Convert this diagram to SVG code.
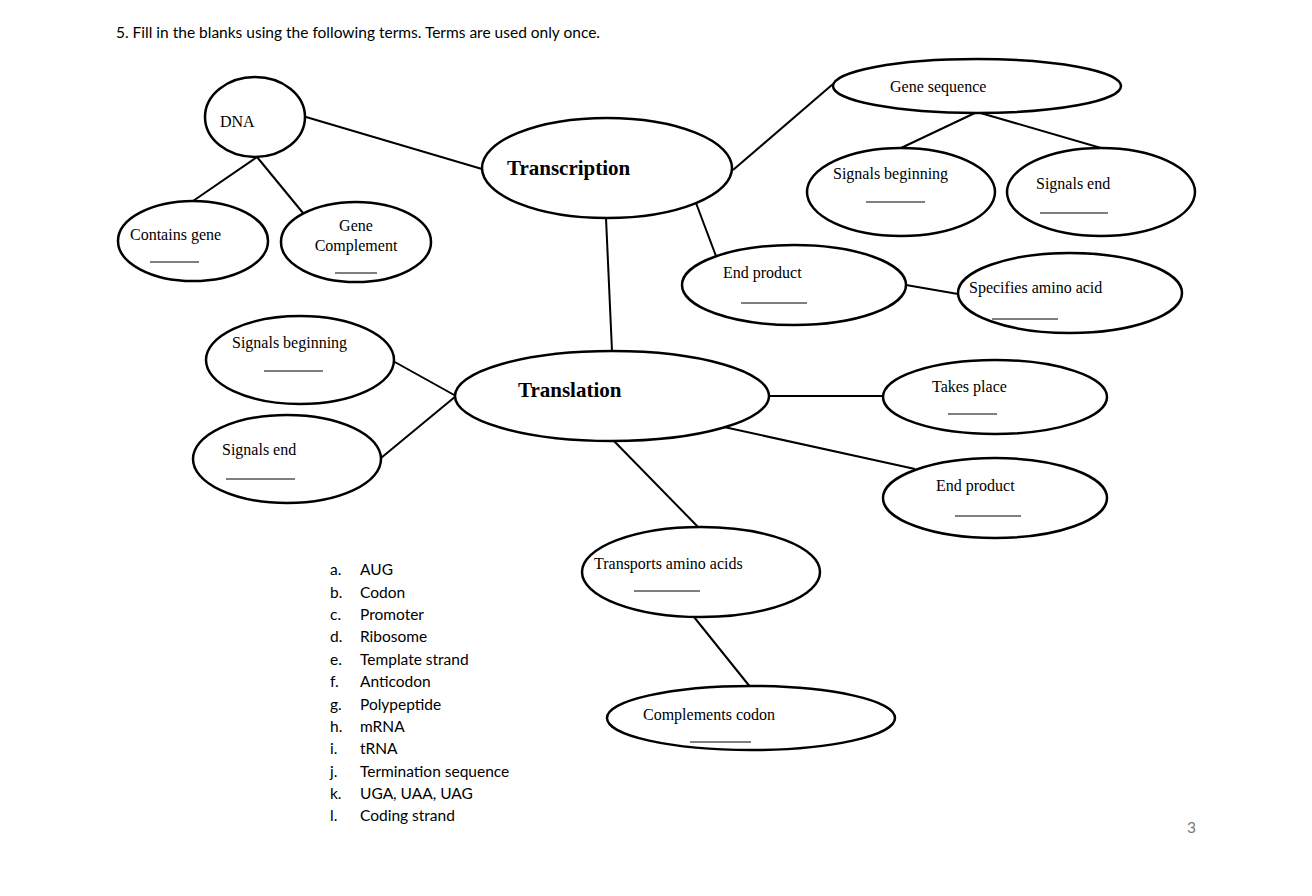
<svg xmlns="http://www.w3.org/2000/svg" width="1312" height="896" viewBox="0 0 1312 896">
<style>
.n{fill:#fff;stroke:#000;stroke-width:2.5}
.t{font-family:"Liberation Serif",serif;font-size:16px;fill:#000}
.b{font-family:"Liberation Serif",serif;font-size:21px;font-weight:bold;fill:#000}
.bl{stroke:#000;stroke-width:1}
.c line{stroke:#000;stroke-width:2}
.s{font-family:Lato,"Open Sans",sans-serif;font-size:15.5px;fill:#000}
</style>
<rect width="1312" height="896" fill="#fff"/>
<text class="s" x="116" y="38">5. Fill in the blanks using the following terms. Terms are used only once.</text>
<g class="c">
<line x1="306" y1="117" x2="482" y2="169"/>
<line x1="257" y1="157" x2="193" y2="201"/>
<line x1="257" y1="157" x2="303" y2="213"/>
<line x1="733" y1="170" x2="833" y2="84"/>
<line x1="977" y1="112" x2="901" y2="148"/>
<line x1="977" y1="112" x2="1101" y2="148"/>
<line x1="696" y1="203" x2="716" y2="256"/>
<line x1="906" y1="285" x2="958" y2="294"/>
<line x1="606" y1="218" x2="612" y2="351"/>
<line x1="393" y1="361" x2="456" y2="396"/>
<line x1="381" y1="458" x2="456" y2="396"/>
<line x1="769" y1="396" x2="883" y2="396"/>
<line x1="724" y1="427" x2="915" y2="469"/>
<line x1="613" y1="440" x2="700" y2="529"/>
<line x1="694" y1="617" x2="751" y2="688"/>
</g>
<g id="dna"><ellipse class="n" cx="255" cy="117" rx="50" ry="40"/><text class="t" x="220" y="127">DNA</text></g>
<g id="contains"><ellipse class="n" cx="193" cy="241" rx="75" ry="40"/><text class="t" x="130" y="240">Contains gene</text><line class="bl" x1="150" y1="262" x2="199" y2="262"/></g>
<g id="complement"><ellipse class="n" cx="356" cy="242" rx="75" ry="40"/><text class="t" x="356" y="231" text-anchor="middle">Gene</text><text class="t" x="356" y="251" text-anchor="middle">Complement</text><line class="bl" x1="335" y1="273" x2="377" y2="273"/></g>
<g id="transcription"><ellipse class="n" cx="607" cy="168" rx="125" ry="50"/><text class="b" x="507" y="175">Transcription</text></g>
<g id="geneseq"><ellipse class="n" cx="977" cy="86" rx="144" ry="27"/><text class="t" x="890" y="92">Gene sequence</text></g>
<g id="sigbeg1"><ellipse class="n" cx="901" cy="192" rx="94" ry="44"/><text class="t" x="833" y="179">Signals beginning</text><line class="bl" x1="866" y1="202" x2="925" y2="202"/></g>
<g id="sigend1"><ellipse class="n" cx="1101" cy="192" rx="94" ry="44"/><text class="t" x="1036" y="189" font-size="17">Signals end</text><line class="bl" x1="1040" y1="213" x2="1108" y2="213"/></g>
<g id="endprod1"><ellipse class="n" cx="794" cy="285" rx="112" ry="40"/><text class="t" x="723" y="278" font-size="17">End product</text><line class="bl" x1="741" y1="303" x2="807" y2="303"/></g>
<g id="specifies"><ellipse class="n" cx="1070" cy="293" rx="112" ry="40"/><text class="t" x="969" y="293" font-size="15">Specifies amino acid</text><line class="bl" x1="992" y1="319" x2="1058" y2="319"/></g>
<g id="sigbeg2"><ellipse class="n" cx="300" cy="360" rx="94" ry="44"/><text class="t" x="232" y="348">Signals beginning</text><line class="bl" x1="264" y1="371" x2="323" y2="371"/></g>
<g id="sigend2"><ellipse class="n" cx="287" cy="459" rx="94" ry="44"/><text class="t" x="222" y="455" font-size="17">Signals end</text><line class="bl" x1="226" y1="479" x2="295" y2="479"/></g>
<g id="translation"><ellipse class="n" cx="612" cy="396" rx="157" ry="45"/><text class="b" x="518" y="397">Translation</text></g>
<g id="takes"><ellipse class="n" cx="995" cy="397" rx="112" ry="37"/><text class="t" x="932" y="392">Takes place</text><line class="bl" x1="948" y1="414" x2="997" y2="414"/></g>
<g id="endprod2"><ellipse class="n" cx="995" cy="498" rx="112" ry="40"/><text class="t" x="936" y="491" font-size="17">End product</text><line class="bl" x1="955" y1="516" x2="1021" y2="516"/></g>
<g id="transports"><ellipse class="n" cx="701" cy="572" rx="119" ry="45"/><text class="t" x="594" y="569" font-size="15">Transports amino acids</text><line class="bl" x1="634" y1="591" x2="700" y2="591"/></g>
<g id="complements"><ellipse class="n" cx="751" cy="718" rx="144" ry="32"/><text class="t" x="643" y="720">Complements codon</text><line class="bl" x1="690" y1="742" x2="751" y2="742"/></g>
<g class="s">
<text x="330" y="575">a.</text><text x="360" y="575">AUG</text>
<text x="330" y="598">b.</text><text x="360" y="598">Codon</text>
<text x="330" y="620">c.</text><text x="360" y="620">Promoter</text>
<text x="330" y="642">d.</text><text x="360" y="642">Ribosome</text>
<text x="330" y="665">e.</text><text x="360" y="665">Template strand</text>
<text x="330" y="687">f.</text><text x="360" y="687">Anticodon</text>
<text x="330" y="710">g.</text><text x="360" y="710">Polypeptide</text>
<text x="330" y="732">h.</text><text x="360" y="732">mRNA</text>
<text x="330" y="754">i.</text><text x="360" y="754">tRNA</text>
<text x="330" y="777">j.</text><text x="360" y="777">Termination sequence</text>
<text x="330" y="799">k.</text><text x="360" y="799">UGA, UAA, UAG</text>
<text x="330" y="821">l.</text><text x="360" y="821">Coding strand</text>
</g>
<text class="s" x="1187" y="833" fill="#777" style="fill:#777">3</text>
</svg>
